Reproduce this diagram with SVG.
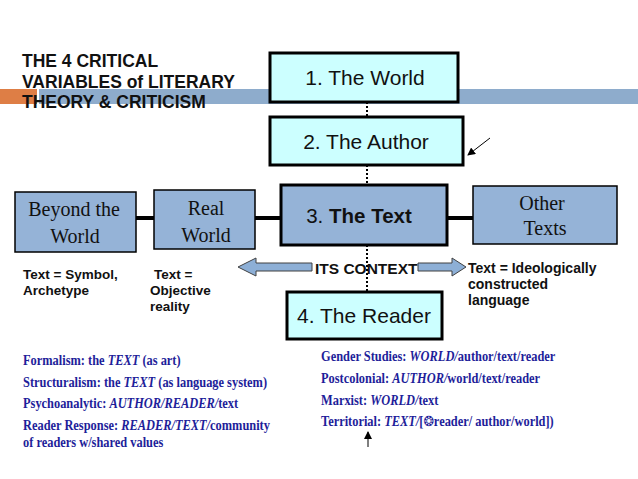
<svg xmlns="http://www.w3.org/2000/svg" width="638" height="479" viewBox="0 0 638 479">
<style>
.title{font-family:"Liberation Sans",Arial,sans-serif;font-weight:bold;font-size:17.5px;fill:#111}
.lt{fill:#CCFFFF;stroke:#000;stroke-width:3}
.md{fill:#95B3D7;stroke:#000;stroke-width:3}
.sd{fill:#95B3D7;stroke:#000;stroke-width:1.5}
.sans{font-family:"Liberation Sans",Arial,sans-serif;font-size:21px;fill:#111;text-anchor:middle}
.serif{font-family:"Liberation Serif","Times New Roman",serif;font-size:20px;fill:#111;text-anchor:middle}
.note{font-family:"Liberation Sans",Arial,sans-serif;font-weight:bold;font-size:13.5px;fill:#111}
.blue{font-family:"Liberation Serif","Times New Roman",serif;font-weight:bold;font-size:12.4px;fill:#1E1E9A}
.dot{stroke:#000;stroke-width:2;stroke-dasharray:2 2;fill:none}
.thick{stroke:#000;stroke-width:4}
.arr{fill:#8DAFD6;stroke:#404040;stroke-width:1}
</style>
<defs>
<marker id="ah" markerWidth="8" markerHeight="8" refX="7" refY="4" orient="auto" markerUnits="userSpaceOnUse">
<path d="M0,0 L8,4 L0,8 z" fill="#000"/>
</marker>
</defs>
<g id="band">
<rect x="0" y="89" width="37" height="15" fill="#DE7E45"/>
<rect x="39" y="89" width="599" height="15" fill="#8EACCC"/>
</g>
<g id="title">
<text class="title" x="22" y="67">THE 4 CRITICAL</text>
<text class="title" x="22" y="88">VARIABLES of LITERARY</text>
<text class="title" x="22" y="108">THEORY &amp; CRITICISM</text>
</g>
<g id="connectors">
<line class="dot" x1="367" y1="102" x2="367" y2="117"/>
<line class="dot" x1="367" y1="165" x2="367" y2="185"/>
<line class="thick" x1="136" y1="218" x2="154" y2="218"/>
<line class="thick" x1="255" y1="218" x2="281" y2="218"/>
<line class="thick" x1="447" y1="218" x2="473" y2="218"/>
<line x1="490" y1="138" x2="468" y2="155" stroke="#000" stroke-width="1" marker-end="url(#ah)"/>
<line x1="368" y1="447" x2="368" y2="432" stroke="#000" stroke-width="1" marker-end="url(#ah)"/>
</g>
<g id="world">
<rect class="lt" x="270" y="53" width="188" height="49"/>
<text class="sans" x="365" y="85">1. The World</text>
</g>
<g id="author">
<rect class="lt" x="270" y="117" width="193" height="48"/>
<text class="sans" x="366" y="149">2. The Author</text>
</g>
<g id="text3">
<rect class="md" x="281" y="185" width="166" height="60"/>
<text class="sans" x="359" y="223" style="font-size:20.5px">3. <tspan font-weight="bold">The Text</tspan></text>
</g>
<g id="beyond">
<rect class="sd" x="15" y="192" width="121" height="60"/>
<text class="serif" x="74" y="216">Beyond the</text>
<text class="serif" x="75" y="243">World</text>
</g>
<g id="real">
<rect class="sd" x="154" y="190" width="101" height="59"/>
<text class="serif" x="206" y="215">Real</text>
<text class="serif" x="206" y="242">World</text>
</g>
<g id="other">
<rect class="sd" x="473" y="186" width="144" height="58"/>
<text class="serif" x="542" y="210">Other</text>
<text class="serif" x="545" y="235">Texts</text>
</g>
<g id="context">
<polygon class="arr" points="238,267 256,258 256,263 312,263 312,271 256,271 256,276"/>
<polygon class="arr" points="418,263 452,263 452,258 466,267 452,276 452,271 418,271"/>
<text class="note" x="315" y="274" style="font-size:15.5px">ITS CONTEXT</text>
<line class="dot" x1="367" y1="245" x2="367" y2="292"/>
</g>
<g id="reader">
<rect class="lt" x="287" y="292" width="155" height="47"/>
<text class="sans" x="364" y="323">4. The Reader</text>
</g>
<g id="notes">
<text class="note" x="23" y="279">Text = Symbol,</text>
<text class="note" x="23" y="295">Archetype</text>
<text class="note" x="154" y="279">Text =</text>
<text class="note" x="150" y="295">Objective</text>
<text class="note" x="150" y="311">reality</text>
<text class="note" x="468" y="273" style="font-size:14px">Text = Ideologically</text>
<text class="note" x="468" y="289" style="font-size:14px">constructed</text>
<text class="note" x="468" y="305" style="font-size:14px">language</text>
</g>
<g id="schools">
<text class="blue" transform="translate(23,365) scale(1,1.12)">Formalism: the <tspan font-style="italic">TEXT</tspan>  (as art)</text>
<text class="blue" transform="translate(23,387) scale(1,1.12)">Structuralism: the <tspan font-style="italic">TEXT</tspan>  (as language system)</text>
<text class="blue" transform="translate(23,408) scale(1,1.12)">Psychoanalytic: <tspan font-style="italic">AUTHOR/READER/</tspan>text</text>
<text class="blue" transform="translate(23,430) scale(1,1.12)">Reader Response: <tspan font-style="italic">READER/TEXT/</tspan>community</text>
<text class="blue" transform="translate(23,447) scale(1,1.12)">of readers w/shared values</text>
<text class="blue" transform="translate(321,361) scale(1,1.12)">Gender Studies: <tspan font-style="italic">WORLD/</tspan>author/text/reader</text>
<text class="blue" transform="translate(321,383) scale(1,1.12)">Postcolonial: <tspan font-style="italic">AUTHOR/</tspan>world/text/reader</text>
<text class="blue" transform="translate(321,405) scale(1,1.12)">Marxist: <tspan font-style="italic">WORLD/</tspan>text</text>
<text class="blue" transform="translate(321,426) scale(1,1.12)">Territorial: <tspan font-style="italic">TEXT/</tspan>[<tspan font-family="DejaVu Sans">❂</tspan>reader/ author/world])</text>
</g>
</svg>
